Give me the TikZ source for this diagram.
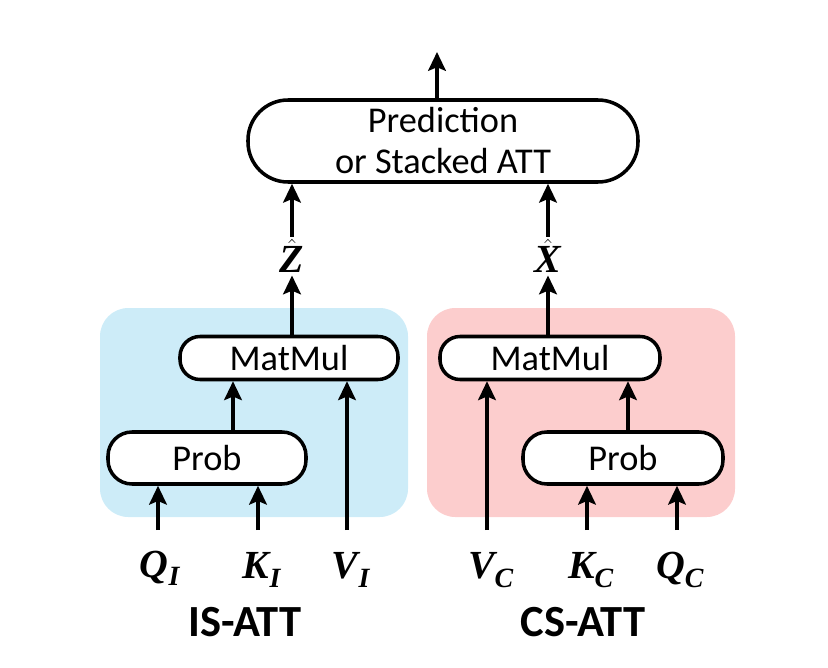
\documentclass[tikz,border=0pt]{standalone}
\usepackage{fontspec}
\usepackage{amsmath}
\setmainfont{Carlito}
\newfontfamily\lblfont{Liberation Serif}
\usetikzlibrary{arrows.meta,positioning,calc}
\newcommand{\vlbl}[2]{{\lblfont\bfseries\itshape #1}$_{\text{\lblfont\bfseries\itshape #2}}$}
\newcommand{\hlbl}[1]{$\hat{\text{\lblfont\bfseries\itshape #1}}$}

\begin{document}
\begin{tikzpicture}[x=0.03cm, y=-0.03cm,
    block/.style={draw, line width=3pt, fill=white, font=\fontsize{31}{37}\selectfont},
    lbl/.style={font=\fontsize{34}{38}\selectfont},
    arr/.style={draw, line width=3.4pt, -{Stealth[length=16pt, width=15pt, inset=3pt]}},
    box/.style={rounded corners=0.85cm, draw=none}]
    \useasboundingbox (0,0) rectangle (828,668);

    \fill[box, fill={rgb,255:red,205;green,236;blue,248}] (100,308) rectangle (408,517);
    \fill[box, fill={rgb,255:red,252;green,205;blue,205}] (427,308) rectangle (735,517);

    \node[block, minimum width=390*0.03cm, minimum height=82*0.03cm, rounded corners=1.2cm, align=center, inner sep=2pt] (pred) at (443,141) {Prediction\\[-2pt]or Stacked ATT};
    \coordinate (out) at (437,52);

    \node[block, rounded corners=0.6cm, minimum width=218*0.03cm, minimum height=43*0.03cm, inner sep=0pt] (mmI) at (289,358) {MatMul};
    \node[block, rounded corners=0.72cm, minimum width=198*0.03cm, minimum height=52*0.03cm, inner sep=0pt] (prI) at (207,458) {Prob};
    \node[block, rounded corners=0.6cm, minimum width=220*0.03cm, minimum height=43*0.03cm, inner sep=0pt] (mmC) at (550,358) {MatMul};
    \node[block, rounded corners=0.72cm, minimum width=200*0.03cm, minimum height=52*0.03cm, inner sep=0pt] (prC) at (623,458) {Prob};

    \node[lbl, inner sep=2pt] (zh) at (292,256) {\hlbl{Z}};
    \node[lbl, inner sep=2pt] (xh) at (548,256) {\hlbl{X}};

    \node[lbl] (qI) at (160,568) {\vlbl{Q}{I}};
    \node[lbl] (kI) at (262,570) {\vlbl{K}{I}};
    \node[lbl] (vI) at (351,570) {\vlbl{V}{I}};
    \node[lbl] (vC) at (491,570) {\vlbl{V}{C}};
    \node[lbl] (kC) at (591,570) {\vlbl{K}{C}};
    \node[lbl] (qC) at (680,570) {\vlbl{Q}{C}};

    \node[font=\fontsize{38}{42}\selectfont\bfseries] (isatt) at (245,622) {IS-ATT};
    \node[font=\fontsize{38}{42}\selectfont\bfseries] (csatt) at (583,622) {CS-ATT};

    \coordinate (qIe) at (158,530);
    \coordinate (kIe) at (258,530);
    \coordinate (vIe) at (347,530);
    \coordinate (vCe) at (487,530);
    \coordinate (kCe) at (587,530);
    \coordinate (qCe) at (677,530);

    \draw[arr] (qIe) -- (qIe |- prI.south);
    \draw[arr] (kIe) -- (kIe |- prI.south);
    \draw[arr] (vIe) -- (vIe |- mmI.south);
    \draw[arr] (vCe) -- (vCe |- mmC.south);
    \draw[arr] (kCe) -- (kCe |- prC.south);
    \draw[arr] (qCe) -- (qCe |- prC.south);
    \draw[arr] ($(prI.north)+(26,0)$) -- ($(mmI.south -| prI.north)+(26,0)$);
    \draw[arr] ($(prC.north)+(5,0)$) -- ($(mmC.south -| prC.north)+(5,0)$);

    \draw[arr] (mmI.north -| zh) -- (zh.south);
    \draw[arr] (zh.north) -- (zh |- pred.south);
    \draw[arr] (mmC.north -| xh) -- (xh.south);
    \draw[arr] (xh.north) -- (xh |- pred.south);
    \draw[arr] (pred.north -| out) -- (out);
\end{tikzpicture}
\end{document}
